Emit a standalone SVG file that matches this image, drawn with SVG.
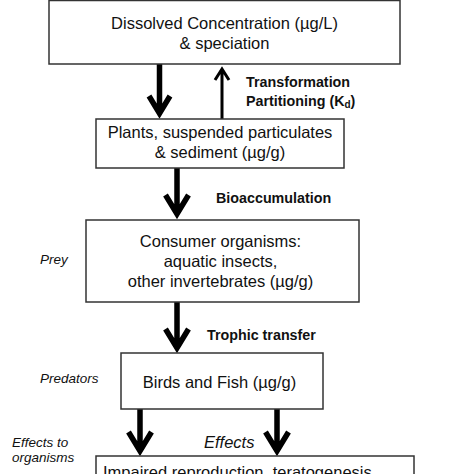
<svg xmlns="http://www.w3.org/2000/svg" width="474" height="474" viewBox="0 0 474 474">
<style>
.box{fill:#fff;stroke:#333;stroke-width:1.5}
.t{font-family:"Liberation Sans",Arial,sans-serif;font-size:16.5px;fill:#111;text-anchor:middle}
.b{font-family:"Liberation Sans",Arial,sans-serif;font-size:14.3px;font-weight:bold;fill:#111}
.i{font-family:"Liberation Sans",Arial,sans-serif;font-size:13.5px;font-style:italic;fill:#111}
.thick{fill:none;stroke:#000;stroke-width:5.5;stroke-linejoin:miter;stroke-miterlimit:10}
.thin{fill:none;stroke:#000;stroke-width:3;stroke-linejoin:miter;stroke-miterlimit:10}
</style>
<rect width="474" height="474" fill="#fff"/>
<g id="connectors">
<path class="thick" d="M159.5,64 V112 M149,96 L159.5,113.5 L170,96"/>
<path class="thin" d="M222,119 V70 M215,80 L222,69 L229,80"/>
<path class="thick" d="M177,168 V212 M165.5,195 L177,214 L188.5,195"/>
<path class="thick" d="M177,302 V346 M165.5,329 L177,348 L188.5,329"/>
<path class="thick" d="M140,409 V449 M128.5,432 L140,451 L151.5,432"/>
<path class="thick" d="M277,409 V449 M265.5,432 L277,451 L288.5,432"/>
</g>
<g id="n1">
<rect class="box" x="49" y="0.5" width="351" height="63.5"/>
<text class="t" x="224.5" y="29">Dissolved Concentration (µg/L)</text>
<text class="t" x="224.5" y="48.5">&amp; speciation</text>
</g>
<g id="n2">
<rect class="box" x="96" y="119" width="248" height="49"/>
<text class="t" x="220" y="138">Plants, suspended particulates</text>
<text class="t" x="220" y="158">&amp; sediment (µg/g)</text>
</g>
<g id="n3">
<rect class="box" x="86" y="220" width="273" height="82"/>
<text class="t" x="220.5" y="247">Consumer organisms:</text>
<text class="t" x="220.5" y="267">aquatic insects,</text>
<text class="t" x="220.5" y="287">other invertebrates (µg/g)</text>
</g>
<g id="n4">
<rect class="box" x="121" y="353" width="202" height="56"/>
<text class="t" x="219.5" y="388">Birds and Fish (µg/g)</text>
</g>
<g id="n5">
<rect class="box" x="96" y="456" width="318" height="30"/>
<text class="t" x="103" y="478" style="text-anchor:start">Impaired reproduction, teratogenesis</text>
</g>
<g id="labels">
<text class="b" x="246" y="87">Transformation</text>
<text class="b" x="246" y="106">Partitioning (K<tspan font-size="10" dy="2">d</tspan><tspan dy="-2">)</tspan></text>
<text class="b" x="216" y="203">Bioaccumulation</text>
<text class="b" x="207" y="340">Trophic transfer</text>
<text class="i" x="40" y="264">Prey</text>
<text class="i" x="40" y="383">Predators</text>
<text class="i" x="12" y="447">Effects to</text>
<text class="i" x="12" y="462">organisms</text>
<text class="i" x="204" y="448" style="font-size:16.5px">Effects</text>
</g>
</svg>
